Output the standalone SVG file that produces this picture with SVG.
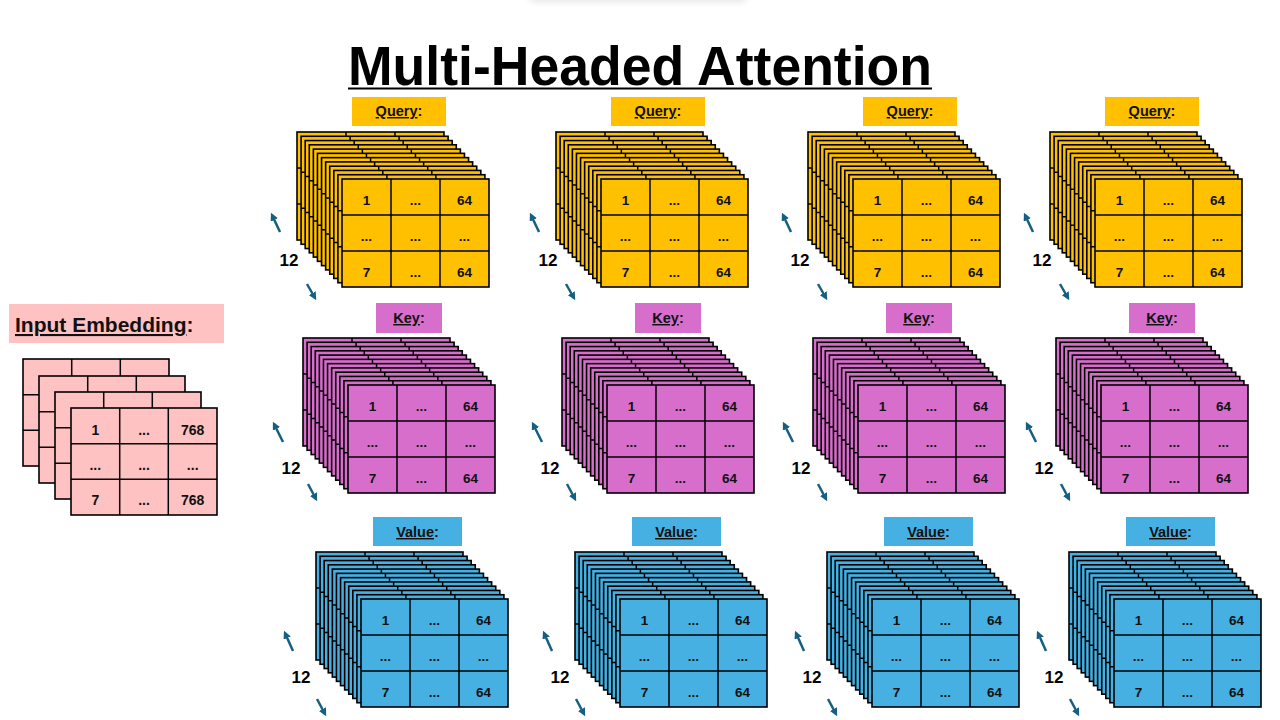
<svg xmlns="http://www.w3.org/2000/svg" xmlns:xlink="http://www.w3.org/1999/xlink" width="1280" height="720" viewBox="0 0 1280 720">
<style>
.title{font-family:"Liberation Sans",Arial,sans-serif;font-weight:bold;font-size:56px;fill:#000}
.lbl{font-family:"Liberation Sans",Arial,sans-serif;font-weight:bold;font-size:14.5px;fill:#111;text-anchor:middle}
.u{text-decoration:underline}
.cell{font-family:"Liberation Sans",Arial,sans-serif;font-weight:bold;font-size:13.5px;fill:#111;text-anchor:middle}
.cellE{font-family:"Liberation Sans",Arial,sans-serif;font-weight:bold;font-size:14px;fill:#111;text-anchor:middle}
.num{font-family:"Liberation Sans",Arial,sans-serif;font-weight:bold;font-size:17px;fill:#000;text-anchor:middle}
.arr{stroke:#156082;stroke-width:2.5;fill:none;marker-end:url(#ah)}
.gl{stroke:#000;stroke-width:1.5}
</style>
<defs>
<marker id="ah" viewBox="0 0 8 8" refX="5.5" refY="4" markerWidth="8" markerHeight="8" markerUnits="userSpaceOnUse" orient="auto">
<path d="M0,0 L8,4 L0,8 z" fill="#156082"/>
</marker>
<g id="layer">
<rect x="0" y="0" width="147" height="108" stroke="#000" stroke-width="1.6"/>
<path class="gl" d="M49,0V108M98,0V108M0,36H147M0,72H147"/>
</g>
<g id="stack">
<use xlink:href="#layer" x="0" y="0"/>
<use xlink:href="#layer" x="4.09" y="4.27"/>
<use xlink:href="#layer" x="8.18" y="8.55"/>
<use xlink:href="#layer" x="12.27" y="12.82"/>
<use xlink:href="#layer" x="16.36" y="17.09"/>
<use xlink:href="#layer" x="20.45" y="21.36"/>
<use xlink:href="#layer" x="24.55" y="25.64"/>
<use xlink:href="#layer" x="28.64" y="29.91"/>
<use xlink:href="#layer" x="32.73" y="34.18"/>
<use xlink:href="#layer" x="36.82" y="38.45"/>
<use xlink:href="#layer" x="40.91" y="42.73"/>
<use xlink:href="#layer" x="45" y="47"/>
</g>
<g id="elayer">
<rect x="0" y="0" width="146" height="107" stroke="#000" stroke-width="1.6"/>
<path class="gl" d="M48.7,0V107M97.3,0V107M0,35.7H146M0,71.3H146"/>
</g>
<filter id="blur" x="-20%" y="-200%" width="140%" height="500%"><feGaussianBlur stdDeviation="3"/></filter>
</defs>
<rect x="0" y="0" width="1280" height="720" fill="#fff"/>
<rect x="528" y="-14" width="220" height="16" rx="8" fill="#e6e6e6" filter="url(#blur)"/>

<g id="title">
<text class="title" x="348" y="85" textLength="584" lengthAdjust="spacingAndGlyphs">Multi-Headed Attention</text>
<line x1="348" y1="88.5" x2="932" y2="88.5" stroke="#000" stroke-width="2"/>
</g>

<g id="input-embedding">
<rect x="9" y="304" width="215" height="39" fill="#FFC2C2"/>
<text x="15" y="332" font-family="Liberation Sans, Arial, sans-serif" font-weight="bold" font-size="21" fill="#111"><tspan class="u">Input Embedding</tspan>:</text>
<use xlink:href="#elayer" x="23" y="359" fill="#FFC2C2"/>
<use xlink:href="#elayer" x="39" y="376" fill="#FFC2C2"/>
<use xlink:href="#elayer" x="55" y="392" fill="#FFC2C2"/>
<use xlink:href="#elayer" x="71" y="408" fill="#FFC2C2"/>
<g transform="translate(71,408)">
<text class="cellE" x="24.3" y="27">1</text><text class="cellE" x="73" y="27">...</text><text class="cellE" x="121.7" y="27">768</text>
<text class="cellE" x="24.3" y="62">...</text><text class="cellE" x="73" y="62">...</text><text class="cellE" x="121.7" y="62">...</text>
<text class="cellE" x="24.3" y="97">7</text><text class="cellE" x="73" y="97">...</text><text class="cellE" x="121.7" y="97">768</text>
</g>
</g>

<!-- Query row -->
<g id="query-1">
<rect x="352" y="97" width="94" height="29" fill="#FFC000"/>
<text class="lbl" x="399" y="116"><tspan class="u">Query</tspan>:</text>
<g transform="translate(342,179)">
<use xlink:href="#stack" x="-45" y="-47" fill="#FFC000"/>
<text class="cell" x="24.5" y="25.5">1</text><text class="cell" x="73.5" y="25.5">...</text><text class="cell" x="122.5" y="25.5">64</text>
<text class="cell" x="24.5" y="61.5">...</text><text class="cell" x="73.5" y="61.5">...</text><text class="cell" x="122.5" y="61.5">...</text>
<text class="cell" x="24.5" y="97.5">7</text><text class="cell" x="73.5" y="97.5">...</text><text class="cell" x="122.5" y="97.5">64</text>
</g>
<text class="num" x="289" y="266">12</text>
</g>
<g id="query-2">
<rect x="611" y="97" width="94" height="29" fill="#FFC000"/>
<text class="lbl" x="658" y="116"><tspan class="u">Query</tspan>:</text>
<g transform="translate(601,179)">
<use xlink:href="#stack" x="-45" y="-47" fill="#FFC000"/>
<text class="cell" x="24.5" y="25.5">1</text><text class="cell" x="73.5" y="25.5">...</text><text class="cell" x="122.5" y="25.5">64</text>
<text class="cell" x="24.5" y="61.5">...</text><text class="cell" x="73.5" y="61.5">...</text><text class="cell" x="122.5" y="61.5">...</text>
<text class="cell" x="24.5" y="97.5">7</text><text class="cell" x="73.5" y="97.5">...</text><text class="cell" x="122.5" y="97.5">64</text>
</g>
<text class="num" x="548" y="266">12</text>
</g>
<g id="query-3">
<rect x="863" y="97" width="94" height="29" fill="#FFC000"/>
<text class="lbl" x="910" y="116"><tspan class="u">Query</tspan>:</text>
<g transform="translate(853,179)">
<use xlink:href="#stack" x="-45" y="-47" fill="#FFC000"/>
<text class="cell" x="24.5" y="25.5">1</text><text class="cell" x="73.5" y="25.5">...</text><text class="cell" x="122.5" y="25.5">64</text>
<text class="cell" x="24.5" y="61.5">...</text><text class="cell" x="73.5" y="61.5">...</text><text class="cell" x="122.5" y="61.5">...</text>
<text class="cell" x="24.5" y="97.5">7</text><text class="cell" x="73.5" y="97.5">...</text><text class="cell" x="122.5" y="97.5">64</text>
</g>
<text class="num" x="800" y="266">12</text>
</g>
<g id="query-4">
<rect x="1105" y="97" width="94" height="29" fill="#FFC000"/>
<text class="lbl" x="1152" y="116"><tspan class="u">Query</tspan>:</text>
<g transform="translate(1095,179)">
<use xlink:href="#stack" x="-45" y="-47" fill="#FFC000"/>
<text class="cell" x="24.5" y="25.5">1</text><text class="cell" x="73.5" y="25.5">...</text><text class="cell" x="122.5" y="25.5">64</text>
<text class="cell" x="24.5" y="61.5">...</text><text class="cell" x="73.5" y="61.5">...</text><text class="cell" x="122.5" y="61.5">...</text>
<text class="cell" x="24.5" y="97.5">7</text><text class="cell" x="73.5" y="97.5">...</text><text class="cell" x="122.5" y="97.5">64</text>
</g>
<text class="num" x="1042" y="266">12</text>
</g>

<!-- Key row -->
<g id="key-1">
<rect x="376" y="303" width="66" height="30" fill="#D86ECC"/>
<text class="lbl" x="409" y="323"><tspan class="u">Key</tspan>:</text>
<g transform="translate(348,385)">
<use xlink:href="#stack" x="-45" y="-47" fill="#D86ECC"/>
<text class="cell" x="24.5" y="25.5">1</text><text class="cell" x="73.5" y="25.5">...</text><text class="cell" x="122.5" y="25.5">64</text>
<text class="cell" x="24.5" y="61.5">...</text><text class="cell" x="73.5" y="61.5">...</text><text class="cell" x="122.5" y="61.5">...</text>
<text class="cell" x="24.5" y="97.5">7</text><text class="cell" x="73.5" y="97.5">...</text><text class="cell" x="122.5" y="97.5">64</text>
</g>
<text class="num" x="291" y="474">12</text>
</g>
<g id="key-2">
<rect x="635" y="303" width="66" height="30" fill="#D86ECC"/>
<text class="lbl" x="668" y="323"><tspan class="u">Key</tspan>:</text>
<g transform="translate(607,385)">
<use xlink:href="#stack" x="-45" y="-47" fill="#D86ECC"/>
<text class="cell" x="24.5" y="25.5">1</text><text class="cell" x="73.5" y="25.5">...</text><text class="cell" x="122.5" y="25.5">64</text>
<text class="cell" x="24.5" y="61.5">...</text><text class="cell" x="73.5" y="61.5">...</text><text class="cell" x="122.5" y="61.5">...</text>
<text class="cell" x="24.5" y="97.5">7</text><text class="cell" x="73.5" y="97.5">...</text><text class="cell" x="122.5" y="97.5">64</text>
</g>
<text class="num" x="550" y="474">12</text>
</g>
<g id="key-3">
<rect x="886" y="303" width="66" height="30" fill="#D86ECC"/>
<text class="lbl" x="919" y="323"><tspan class="u">Key</tspan>:</text>
<g transform="translate(858,385)">
<use xlink:href="#stack" x="-45" y="-47" fill="#D86ECC"/>
<text class="cell" x="24.5" y="25.5">1</text><text class="cell" x="73.5" y="25.5">...</text><text class="cell" x="122.5" y="25.5">64</text>
<text class="cell" x="24.5" y="61.5">...</text><text class="cell" x="73.5" y="61.5">...</text><text class="cell" x="122.5" y="61.5">...</text>
<text class="cell" x="24.5" y="97.5">7</text><text class="cell" x="73.5" y="97.5">...</text><text class="cell" x="122.5" y="97.5">64</text>
</g>
<text class="num" x="801" y="474">12</text>
</g>
<g id="key-4">
<rect x="1129" y="303" width="66" height="30" fill="#D86ECC"/>
<text class="lbl" x="1162" y="323"><tspan class="u">Key</tspan>:</text>
<g transform="translate(1101,385)">
<use xlink:href="#stack" x="-45" y="-47" fill="#D86ECC"/>
<text class="cell" x="24.5" y="25.5">1</text><text class="cell" x="73.5" y="25.5">...</text><text class="cell" x="122.5" y="25.5">64</text>
<text class="cell" x="24.5" y="61.5">...</text><text class="cell" x="73.5" y="61.5">...</text><text class="cell" x="122.5" y="61.5">...</text>
<text class="cell" x="24.5" y="97.5">7</text><text class="cell" x="73.5" y="97.5">...</text><text class="cell" x="122.5" y="97.5">64</text>
</g>
<text class="num" x="1044" y="474">12</text>
</g>

<!-- Value row -->
<g id="value-1">
<rect x="373" y="517" width="89" height="29" fill="#45B0E1"/>
<text class="lbl" x="417.5" y="537"><tspan class="u">Value</tspan>:</text>
<g transform="translate(361,599)">
<use xlink:href="#stack" x="-45" y="-47" fill="#45B0E1"/>
<text class="cell" x="24.5" y="25.5">1</text><text class="cell" x="73.5" y="25.5">...</text><text class="cell" x="122.5" y="25.5">64</text>
<text class="cell" x="24.5" y="61.5">...</text><text class="cell" x="73.5" y="61.5">...</text><text class="cell" x="122.5" y="61.5">...</text>
<text class="cell" x="24.5" y="97.5">7</text><text class="cell" x="73.5" y="97.5">...</text><text class="cell" x="122.5" y="97.5">64</text>
</g>
<text class="num" x="301" y="683">12</text>
</g>
<g id="value-2">
<rect x="632" y="517" width="89" height="29" fill="#45B0E1"/>
<text class="lbl" x="676.5" y="537"><tspan class="u">Value</tspan>:</text>
<g transform="translate(620,599)">
<use xlink:href="#stack" x="-45" y="-47" fill="#45B0E1"/>
<text class="cell" x="24.5" y="25.5">1</text><text class="cell" x="73.5" y="25.5">...</text><text class="cell" x="122.5" y="25.5">64</text>
<text class="cell" x="24.5" y="61.5">...</text><text class="cell" x="73.5" y="61.5">...</text><text class="cell" x="122.5" y="61.5">...</text>
<text class="cell" x="24.5" y="97.5">7</text><text class="cell" x="73.5" y="97.5">...</text><text class="cell" x="122.5" y="97.5">64</text>
</g>
<text class="num" x="560" y="683">12</text>
</g>
<g id="value-3">
<rect x="884" y="517" width="89" height="29" fill="#45B0E1"/>
<text class="lbl" x="928.5" y="537"><tspan class="u">Value</tspan>:</text>
<g transform="translate(872,599)">
<use xlink:href="#stack" x="-45" y="-47" fill="#45B0E1"/>
<text class="cell" x="24.5" y="25.5">1</text><text class="cell" x="73.5" y="25.5">...</text><text class="cell" x="122.5" y="25.5">64</text>
<text class="cell" x="24.5" y="61.5">...</text><text class="cell" x="73.5" y="61.5">...</text><text class="cell" x="122.5" y="61.5">...</text>
<text class="cell" x="24.5" y="97.5">7</text><text class="cell" x="73.5" y="97.5">...</text><text class="cell" x="122.5" y="97.5">64</text>
</g>
<text class="num" x="812" y="683">12</text>
</g>
<g id="value-4">
<rect x="1126" y="517" width="89" height="29" fill="#45B0E1"/>
<text class="lbl" x="1170.5" y="537"><tspan class="u">Value</tspan>:</text>
<g transform="translate(1114,599)">
<use xlink:href="#stack" x="-45" y="-47" fill="#45B0E1"/>
<text class="cell" x="24.5" y="25.5">1</text><text class="cell" x="73.5" y="25.5">...</text><text class="cell" x="122.5" y="25.5">64</text>
<text class="cell" x="24.5" y="61.5">...</text><text class="cell" x="73.5" y="61.5">...</text><text class="cell" x="122.5" y="61.5">...</text>
<text class="cell" x="24.5" y="97.5">7</text><text class="cell" x="73.5" y="97.5">...</text><text class="cell" x="122.5" y="97.5">64</text>
</g>
<text class="num" x="1054" y="683">12</text>
</g>

<g id="connectors">
<!-- Query row arrows -->
<line class="arr" x1="280" y1="232" x2="272" y2="215"/>
<line class="arr" x1="307" y1="284" x2="315" y2="298"/>
<line class="arr" x1="539" y1="232" x2="531" y2="215"/>
<line class="arr" x1="566" y1="284" x2="574" y2="298"/>
<line class="arr" x1="791" y1="232" x2="783" y2="215"/>
<line class="arr" x1="818" y1="284" x2="826" y2="298"/>
<line class="arr" x1="1033" y1="232" x2="1025" y2="215"/>
<line class="arr" x1="1060" y1="284" x2="1068" y2="298"/>
<!-- Key row arrows -->
<line class="arr" x1="283" y1="442" x2="274" y2="424"/>
<line class="arr" x1="308" y1="484" x2="316" y2="499"/>
<line class="arr" x1="542" y1="442" x2="533" y2="424"/>
<line class="arr" x1="567" y1="484" x2="575" y2="499"/>
<line class="arr" x1="793" y1="442" x2="784" y2="424"/>
<line class="arr" x1="818" y1="484" x2="826" y2="499"/>
<line class="arr" x1="1036" y1="442" x2="1027" y2="424"/>
<line class="arr" x1="1061" y1="484" x2="1069" y2="499"/>
<!-- Value row arrows -->
<line class="arr" x1="293" y1="651" x2="285" y2="633"/>
<line class="arr" x1="317" y1="699" x2="325" y2="714"/>
<line class="arr" x1="552" y1="651" x2="544" y2="633"/>
<line class="arr" x1="576" y1="699" x2="584" y2="714"/>
<line class="arr" x1="804" y1="651" x2="796" y2="633"/>
<line class="arr" x1="828" y1="699" x2="836" y2="714"/>
<line class="arr" x1="1046" y1="651" x2="1038" y2="633"/>
<line class="arr" x1="1070" y1="699" x2="1078" y2="714"/>
</g>
</svg>
